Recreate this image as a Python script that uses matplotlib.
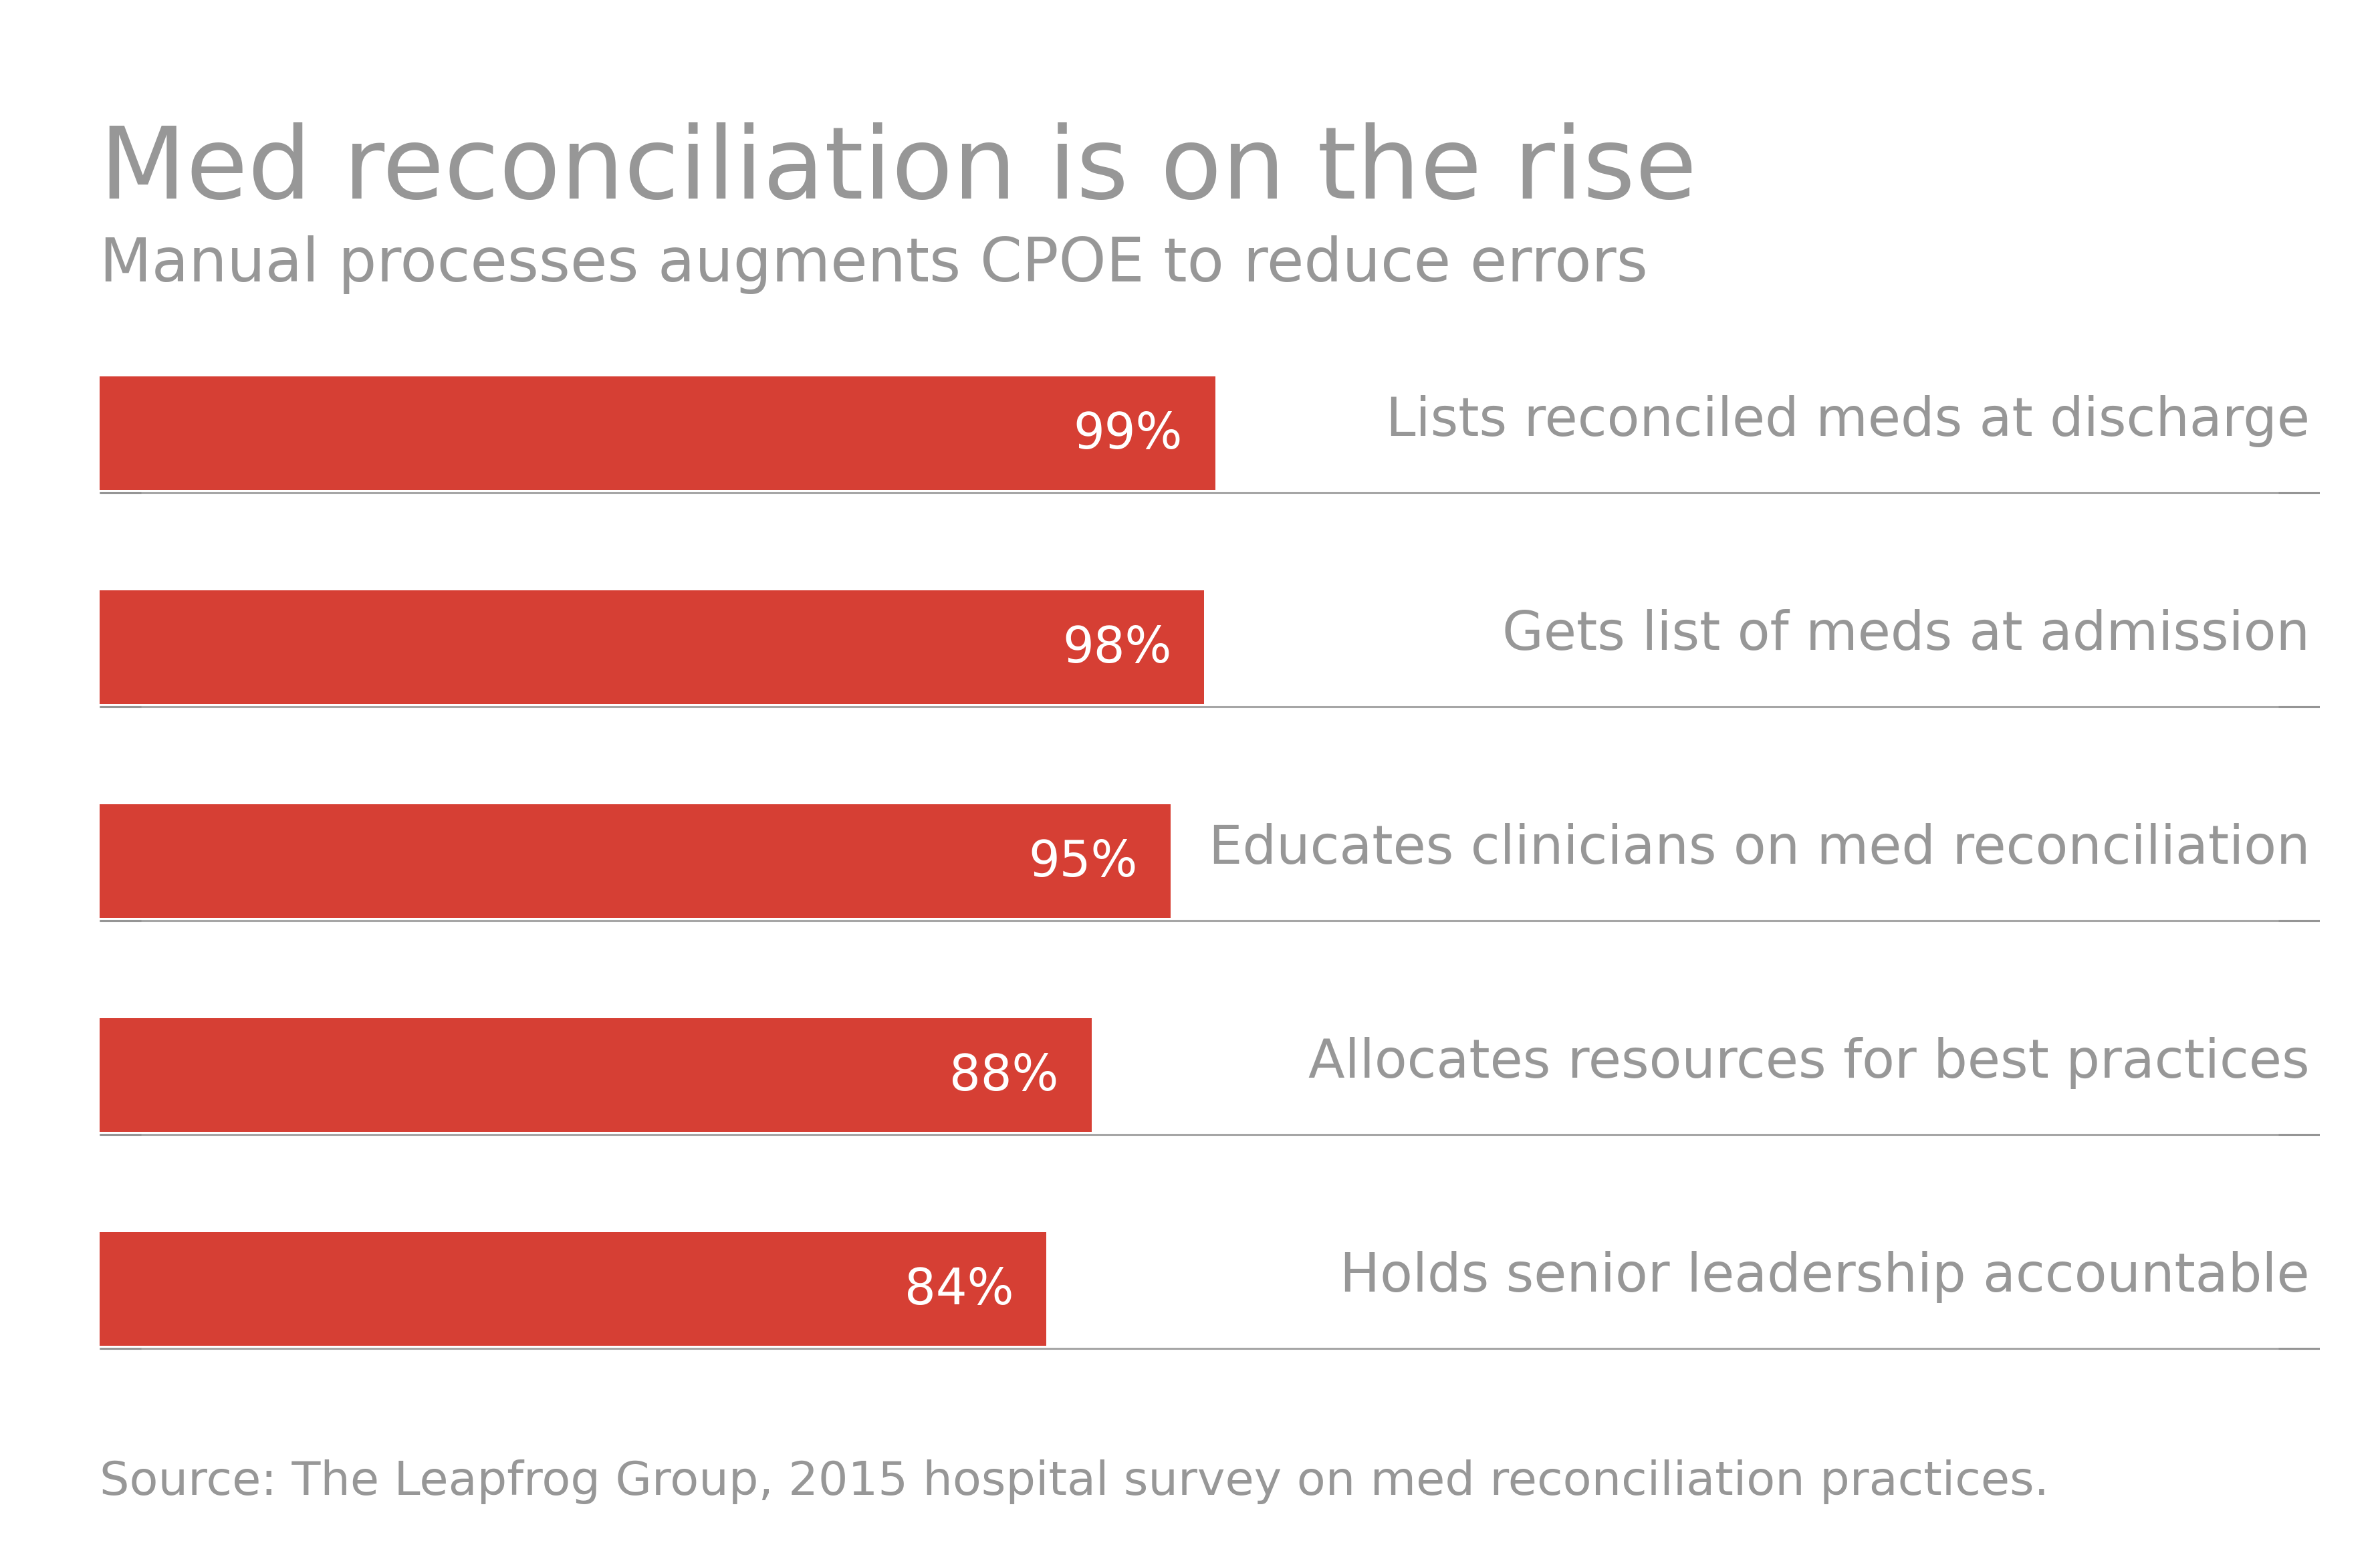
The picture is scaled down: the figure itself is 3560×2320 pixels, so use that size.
import matplotlib
matplotlib.use('Agg')
import matplotlib.pyplot as plt

categories = ['Lists reconciled meds at discharge',
              'Gets list of meds at admission',
              'Educates clinicians on med reconciliation',
              'Allocates resources for best practices',
              'Holds senior leadership accountable']
values = [99, 98, 95, 88, 84]

title = 'Med reconciliation is on the rise'
subtitle = 'Manual processes augments CPOE to reduce errors'
source = 'Source: The Leapfrog Group, 2015 hospital survey on med reconciliation practices.'

red = '#d63f34'
grey = '#979797'
line_grey = '#a6a6a6'

plt.rcParams['font.family'] = ['DejaVu Sans']

fig = plt.figure(figsize=(35.6, 23.2), dpi=100)
fig.patch.set_facecolor('white')

# axes spans from bar start to the right end of the separator lines
ax = fig.add_axes([149 / 3560, 1 - 2088 / 2320, 3321 / 3560, 1600 / 2320])
xmax = 3321 / 1686 * 100
ax.set_xlim(0, xmax)
ax.set_ylim(4.5, -0.5)
ax.axis('off')

ypos = list(range(len(categories)))
ax.barh(ypos, values, height=0.534, color=red, linewidth=0)

for y, v, cat in zip(ypos, values, categories):
    # separator line under each bar
    ax.hlines(y + 0.278, 0, xmax, color=line_grey, linewidth=2.2)
    ax.hlines(y + 0.278, 0, xmax * 62 / 3321, color='#959595', linewidth=2.2)
    ax.hlines(y + 0.278, xmax * (1 - 62 / 3321), xmax, color='#959595', linewidth=2.2)
    ax.text(v - 2.9, y + 0.073, f'{v}%', color='white', fontsize=53,
            ha='right', va='baseline')
    ax.text(xmax * (3306 / 3321), y + 0.013, cat, color=grey, fontsize=57.5,
            ha='right', va='baseline')

fig.text(149 / 3560, 1 - 297 / 2320, title, color=grey, fontsize=108,
         ha='left', va='baseline')
fig.text(149 / 3560, 1 - 421 / 2320, subtitle, color=grey, fontsize=65,
         ha='left', va='baseline')
fig.text(149 / 3560, 1 - 2236 / 2320, source, color=grey, fontsize=50.6,
         ha='left', va='baseline')

fig.savefig('out.png', dpi=100, facecolor='white')
